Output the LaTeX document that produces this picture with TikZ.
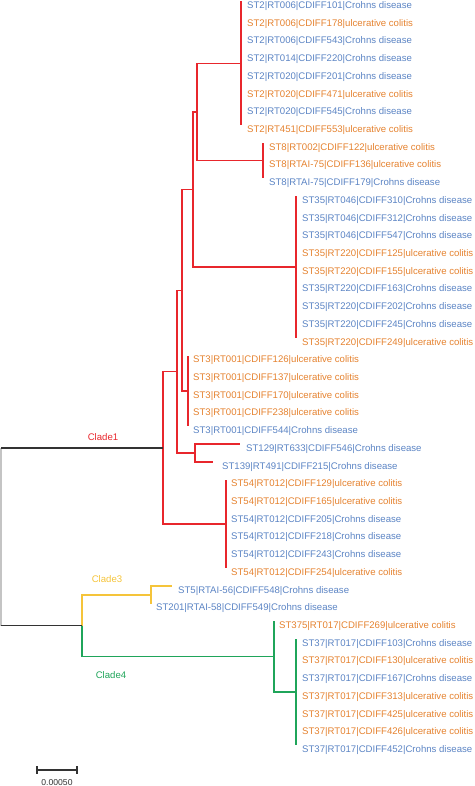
\documentclass[tikz,border=0pt]{standalone}
\usepackage{fontspec}
\setmainfont{Liberation Sans}
\definecolor{cdc}{HTML}{5B84C4}
\definecolor{ucc}{HTML}{E5822F}
\definecolor{redc}{HTML}{E8262C}
\definecolor{yelc}{HTML}{F5C43A}
\definecolor{grnc}{HTML}{1FA55A}
\definecolor{rootc}{HTML}{C4C4C4}
\definecolor{blkc}{HTML}{333333}
\begin{document}
\begin{tikzpicture}[x=1pt,y=-1pt,
  leaf/.style={anchor=base west, inner sep=0pt, font=\fontsize{9.6}{11}\selectfont},
  cladelbl/.style={anchor=base, inner sep=0pt, font=\fontsize{9.6}{11}\selectfont},
  br/.style={line width=1.5pt, line join=miter, line cap=butt},
  redbr/.style={br, draw=redc},
  yelbr/.style={br, draw=yelc},
  grnbr/.style={br, draw=grnc},
  blkbr/.style={br, draw=blkc},
  rootbr/.style={line width=2.2pt, draw=rootc}]
\useasboundingbox (0,0) rectangle (474,786);

% leaves: index / tip x / label x / colour / text
\foreach \i/\tx/\lx/\c/\t in {
 1/241/247/cdc/{ST2|RT006|CDIFF101|Crohns disease},
 2/241/247/ucc/{ST2|RT006|CDIFF178|ulcerative colitis},
 3/241/247/cdc/{ST2|RT006|CDIFF543|Crohns disease},
 4/241/247/cdc/{ST2|RT014|CDIFF220|Crohns disease},
 5/241/247/cdc/{ST2|RT020|CDIFF201|Crohns disease},
 6/241/247/ucc/{ST2|RT020|CDIFF471|ulcerative colitis},
 7/241/247/cdc/{ST2|RT020|CDIFF545|Crohns disease},
 8/241/247/ucc/{ST2|RT451|CDIFF553|ulcerative colitis},
 9/263/269/ucc/{ST8|RT002|CDIFF122|ulcerative colitis},
 10/263/269/ucc/{ST8|RTAI-75|CDIFF136|ulcerative colitis},
 11/263/269/cdc/{ST8|RTAI-75|CDIFF179|Crohns disease},
 12/296/302/cdc/{ST35|RT046|CDIFF310|Crohns disease},
 13/296/302/cdc/{ST35|RT046|CDIFF312|Crohns disease},
 14/296/302/cdc/{ST35|RT046|CDIFF547|Crohns disease},
 15/296/302/ucc/{ST35|RT220|CDIFF125|ulcerative colitis},
 16/296/302/ucc/{ST35|RT220|CDIFF155|ulcerative colitis},
 17/296/302/cdc/{ST35|RT220|CDIFF163|Crohns disease},
 18/296/302/cdc/{ST35|RT220|CDIFF202|Crohns disease},
 19/296/302/cdc/{ST35|RT220|CDIFF245|Crohns disease},
 20/296/302/ucc/{ST35|RT220|CDIFF249|ulcerative colitis},
 21/188/193/ucc/{ST3|RT001|CDIFF126|ulcerative colitis},
 22/188/193/ucc/{ST3|RT001|CDIFF137|ulcerative colitis},
 23/188/193/ucc/{ST3|RT001|CDIFF170|ulcerative colitis},
 24/188/193/ucc/{ST3|RT001|CDIFF238|ulcerative colitis},
 25/188/193/cdc/{ST3|RT001|CDIFF544|Crohns disease},
 26/240/246/cdc/{ST129|RT633|CDIFF546|Crohns disease},
 27/213/222/cdc/{ST139|RT491|CDIFF215|Crohns disease},
 28/226/231/ucc/{ST54|RT012|CDIFF129|ulcerative colitis},
 29/226/231/ucc/{ST54|RT012|CDIFF165|ulcerative colitis},
 30/226/231/cdc/{ST54|RT012|CDIFF205|Crohns disease},
 31/226/231/cdc/{ST54|RT012|CDIFF218|Crohns disease},
 32/226/231/cdc/{ST54|RT012|CDIFF243|Crohns disease},
 33/226/231/ucc/{ST54|RT012|CDIFF254|ulcerative colitis},
 34/172/178/cdc/{ST5|RTAI-56|CDIFF548|Crohns disease},
 35/151/156/cdc/{ST201|RTAI-58|CDIFF549|Crohns disease},
 36/274/279/ucc/{ST375|RT017|CDIFF269|ulcerative colitis},
 37/296/302/cdc/{ST37|RT017|CDIFF103|Crohns disease},
 38/296/302/ucc/{ST37|RT017|CDIFF130|ulcerative colitis},
 39/296/302/cdc/{ST37|RT017|CDIFF167|Crohns disease},
 40/296/302/ucc/{ST37|RT017|CDIFF313|ulcerative colitis},
 41/296/302/ucc/{ST37|RT017|CDIFF425|ulcerative colitis},
 42/296/302/ucc/{ST37|RT017|CDIFF426|ulcerative colitis},
 43/296/302/cdc/{ST37|RT017|CDIFF452|Crohns disease}} {
  \coordinate (t\i) at (\tx, {1.3+(\i-1)*17.714});
  \node[leaf, text=\c] (l\i) at (\lx, {8.45+(\i-1)*17.714}) {\t};
}

% internal nodes
\coordinate (A2)  at (241, 63.3);
\coordinate (A8)  at (263, 160.7);
\coordinate (B)   at (197, 112.0);
\coordinate (A35) at (296, 267.0);
\coordinate (C)   at (193, 189.5);
\coordinate (A3)  at (188, 391.0);
\coordinate (D)   at (182, 290.25);
\coordinate (E)   at (195, 453.0);
\coordinate (F)   at (177, 371.6);
\coordinate (A54) at (226, 523.9);
\coordinate (G)   at (163, 447.8);
\coordinate (H)   at (151, 594.75);
\coordinate (A37) at (296, 692.15);
\coordinate (I)   at (274, 656.7);
\coordinate (J)   at (82, 625.7);
\coordinate (R)   at (1, 536.75);

% clade 1 (red)
\foreach \i in {1,...,8}   {\draw[redbr] (A2) |- (t\i);}
\foreach \i in {9,...,11}  {\draw[redbr] (A8) |- (t\i);}
\foreach \i in {12,...,20} {\draw[redbr] (A35) |- (t\i);}
\foreach \i in {21,...,25} {\draw[redbr] (A3) |- (t\i);}
\foreach \i in {26,27}     {\draw[redbr] (E) |- (t\i);}
\foreach \i in {28,...,33} {\draw[redbr] (A54) |- (t\i);}
\draw[redbr] (B) |- (A2);
\draw[redbr] (B) |- (A8);
\draw[redbr] (C) |- (B);
\draw[redbr] (C) |- (A35);
\draw[redbr] (D) |- (C);
\draw[redbr] (D) |- (A3);
\draw[redbr] (F) |- (D);
\draw[redbr] (F) |- (E);
\draw[redbr] (G) |- (F);
\draw[redbr] (G) |- (A54);

% clade 3 (yellow)
\foreach \i in {34,35} {\draw[yelbr] (H) |- (t\i);}
\draw[yelbr] (J) |- (H);

% clade 4 (green)
\foreach \i in {37,...,43} {\draw[grnbr] (A37) |- (t\i);}
\draw[grnbr] (I) |- (t36);
\draw[grnbr] (I) |- (A37);
\draw[grnbr] (J) |- (I);

% root
\draw[rootbr] (R |- G) -- (R |- J);
\draw[blkbr] (R |- G) -- (G);
\draw[blkbr] (R |- J) -- (J);

% clade labels
\node[cladelbl, text=redc] (c1) at (103, 440.5) {Clade1};
\node[cladelbl, text=yelc] (c3) at (107, 582.5) {Clade3};
\node[cladelbl, text=grnc] (c4) at (111, 678.5) {Clade4};

% scale bar
\coordinate (s1) at (37, 770);
\coordinate (s2) at (77, 770);
\draw[blkbr] (s1) -- (s2);
\draw[blkbr] (s1) ++(0,-4) -- ++(0,8);
\draw[blkbr] (s2) ++(0,-4) -- ++(0,8);
\node[anchor=base, inner sep=0pt, font=\fontsize{8.6}{10}\selectfont, text=blkc] (sl) at (57, 785) {0.00050};
\end{tikzpicture}
\end{document}
